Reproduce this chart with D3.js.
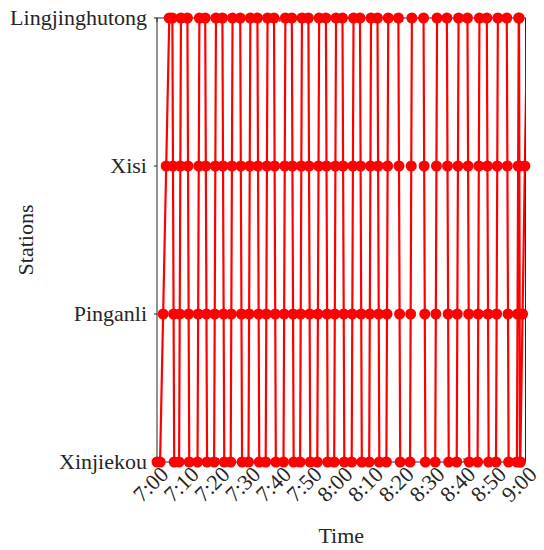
<!DOCTYPE html>
<html>
<head>
<meta charset="utf-8">
<script src="https://cdn.jsdelivr.net/npm/d3@7"></script>
<style>
  body { margin: 0; background: #fff; }
  text { font-family: "Liberation Serif", "Times New Roman", serif; fill: #262626; }
</style>
</head>
<body>
<div id="chart"></div>
<script>
// stations, bottom to top
const stations = ["Xinjiekou", "Pinganli", "Xisi", "Lingjinghutong"];

// minutes after 7:00 when each leg leaves its terminal (legs alternate up / down)
const legStart = [
  1.0, 5.0, 7.2, 9.9, 13.2, 15.7, 18.6, 21.3, 24.0, 27.1,
  29.8, 32.7, 35.4, 38.1, 41.2, 43.9, 46.6, 49.3, 52.2, 55.0,
  57.7, 60.4, 63.4, 66.1, 69.1, 71.8, 74.7, 78.6, 82.4, 86.8,
  90.6, 94.4, 97.6, 101.1, 104.4, 107.4, 110.4, 113.9, 117.2, 117.9,
  118.3
];
// minutes between neighbouring stations for each leg
const legHop = [
  1.0, 0.2, 0.2, 0.2, 0.2, 0.2, 0.2, 0.2, 0.2, 0.2,
  0.2, 0.2, 0.2, 0.2, 0.2, 0.2, 0.2, 0.2, 0.2, 0.2,
  0.2, 0.2, 0.2, 0.2, 0.2, 0.2, 0.2, 0.2, 0.2, 0.2,
  0.2, 0.2, 0.2, 0.2, 0.2, 0.2, 0.2, 0.2, 0.2, 0.1,
  0.75
];
const startTime = 0;   // train waits at Xinjiekou from 7:00
const endTime = 120;   // 9:00

function drawChart() {
  const width = 544, height = 550;
  const margin = { left: 157, right: 18.5, top: 18, bottom: 88 };

  const base = new Date(2020, 0, 1, 7, 0);
  const toDate = m => new Date(base.getTime() + m * 60000);

  // build the polyline points
  const pts = [{ t: startTime, s: 0 }];
  legStart.forEach((t0, i) => {
    const up = i % 2 === 0;
    for (let k = 0; k < stations.length; k++) {
      pts.push({ t: t0 + k * legHop[i], s: up ? k : stations.length - 1 - k });
    }
  });

  const x = d3.scaleTime()
    .domain([toDate(0), toDate(endTime)])
    .range([margin.left, width - margin.right]);
  const y = d3.scaleLinear()
    .domain([0, stations.length - 1])
    .range([height - margin.bottom, margin.top]);

  const svg = d3.select("#chart").append("svg")
    .attr("width", width)
    .attr("height", height);

  svg.append("clipPath").attr("id", "plot-clip")
    .append("rect")
    .attr("x", margin.left).attr("y", margin.top)
    .attr("width", width - margin.left - margin.right)
    .attr("height", height - margin.top - margin.bottom);

  const axisColor = "#262626";
  const plotW = width - margin.left - margin.right;
  const plotH = height - margin.top - margin.bottom;

  // box
  svg.append("rect")
    .attr("x", margin.left).attr("y", margin.top)
    .attr("width", plotW).attr("height", plotH)
    .attr("fill", "none").attr("stroke", axisColor).attr("stroke-width", 1);

  const tickTimes = x.ticks(d3.timeMinute.every(10));

  // inner ticks top/bottom
  const ticksG = svg.append("g").attr("stroke", axisColor).attr("stroke-width", 1);
  tickTimes.forEach(d => {
    const px = x(d);
    ticksG.append("line").attr("x1", px).attr("x2", px)
      .attr("y1", height - margin.bottom).attr("y2", height - margin.bottom - 4);
    ticksG.append("line").attr("x1", px).attr("x2", px)
      .attr("y1", margin.top).attr("y2", margin.top + 4);
  });
  stations.forEach((s, i) => {
    ticksG.append("line").attr("x1", margin.left).attr("x2", margin.left - 3)
      .attr("y1", y(i)).attr("y2", y(i));
  });

  // x tick labels
  const fmt = d3.timeFormat("%-H:%M");
  svg.append("g").selectAll("text")
    .data(tickTimes)
    .join("text")
    .attr("transform", d => `translate(${x(d) + 1},${height - margin.bottom + 2}) rotate(-45)`)
    .attr("text-anchor", "end")
    .attr("dy", "0.75em")
    .attr("font-size", 22)
    .text(d => fmt(d));

  // y tick labels
  svg.append("g").selectAll("text")
    .data(stations)
    .join("text")
    .attr("x", margin.left - 10)
    .attr("y", (d, i) => y(i))
    .attr("dy", "0.33em")
    .attr("text-anchor", "end")
    .attr("font-size", 22)
    .text(d => d);

  // axis titles
  svg.append("text")
    .attr("x", margin.left + plotW / 2)
    .attr("y", 543)
    .attr("text-anchor", "middle")
    .attr("font-size", 22)
    .text("Time");
  svg.append("text")
    .attr("transform", `translate(33,${margin.top + plotH / 2}) rotate(-90)`)
    .attr("text-anchor", "middle")
    .attr("font-size", 22)
    .text("Stations");

  // train line
  const line = d3.line()
    .x(d => x(toDate(d.t)))
    .y(d => y(d.s));

  svg.append("path")
    .datum(pts)
    .attr("clip-path", "url(#plot-clip)")
    .attr("fill", "none")
    .attr("stroke", "#ff0000")
    .attr("stroke-width", 2.2)
    .attr("d", line);

  svg.append("g").selectAll("circle")
    .data(pts.filter(d => d.t <= endTime))
    .join("circle")
    .attr("cx", d => x(toDate(d.t)))
    .attr("cy", d => y(d.s))
    .attr("r", 5.5)
    .attr("fill", "#ff0000");
}

drawChart();
</script>
</body>
</html>
